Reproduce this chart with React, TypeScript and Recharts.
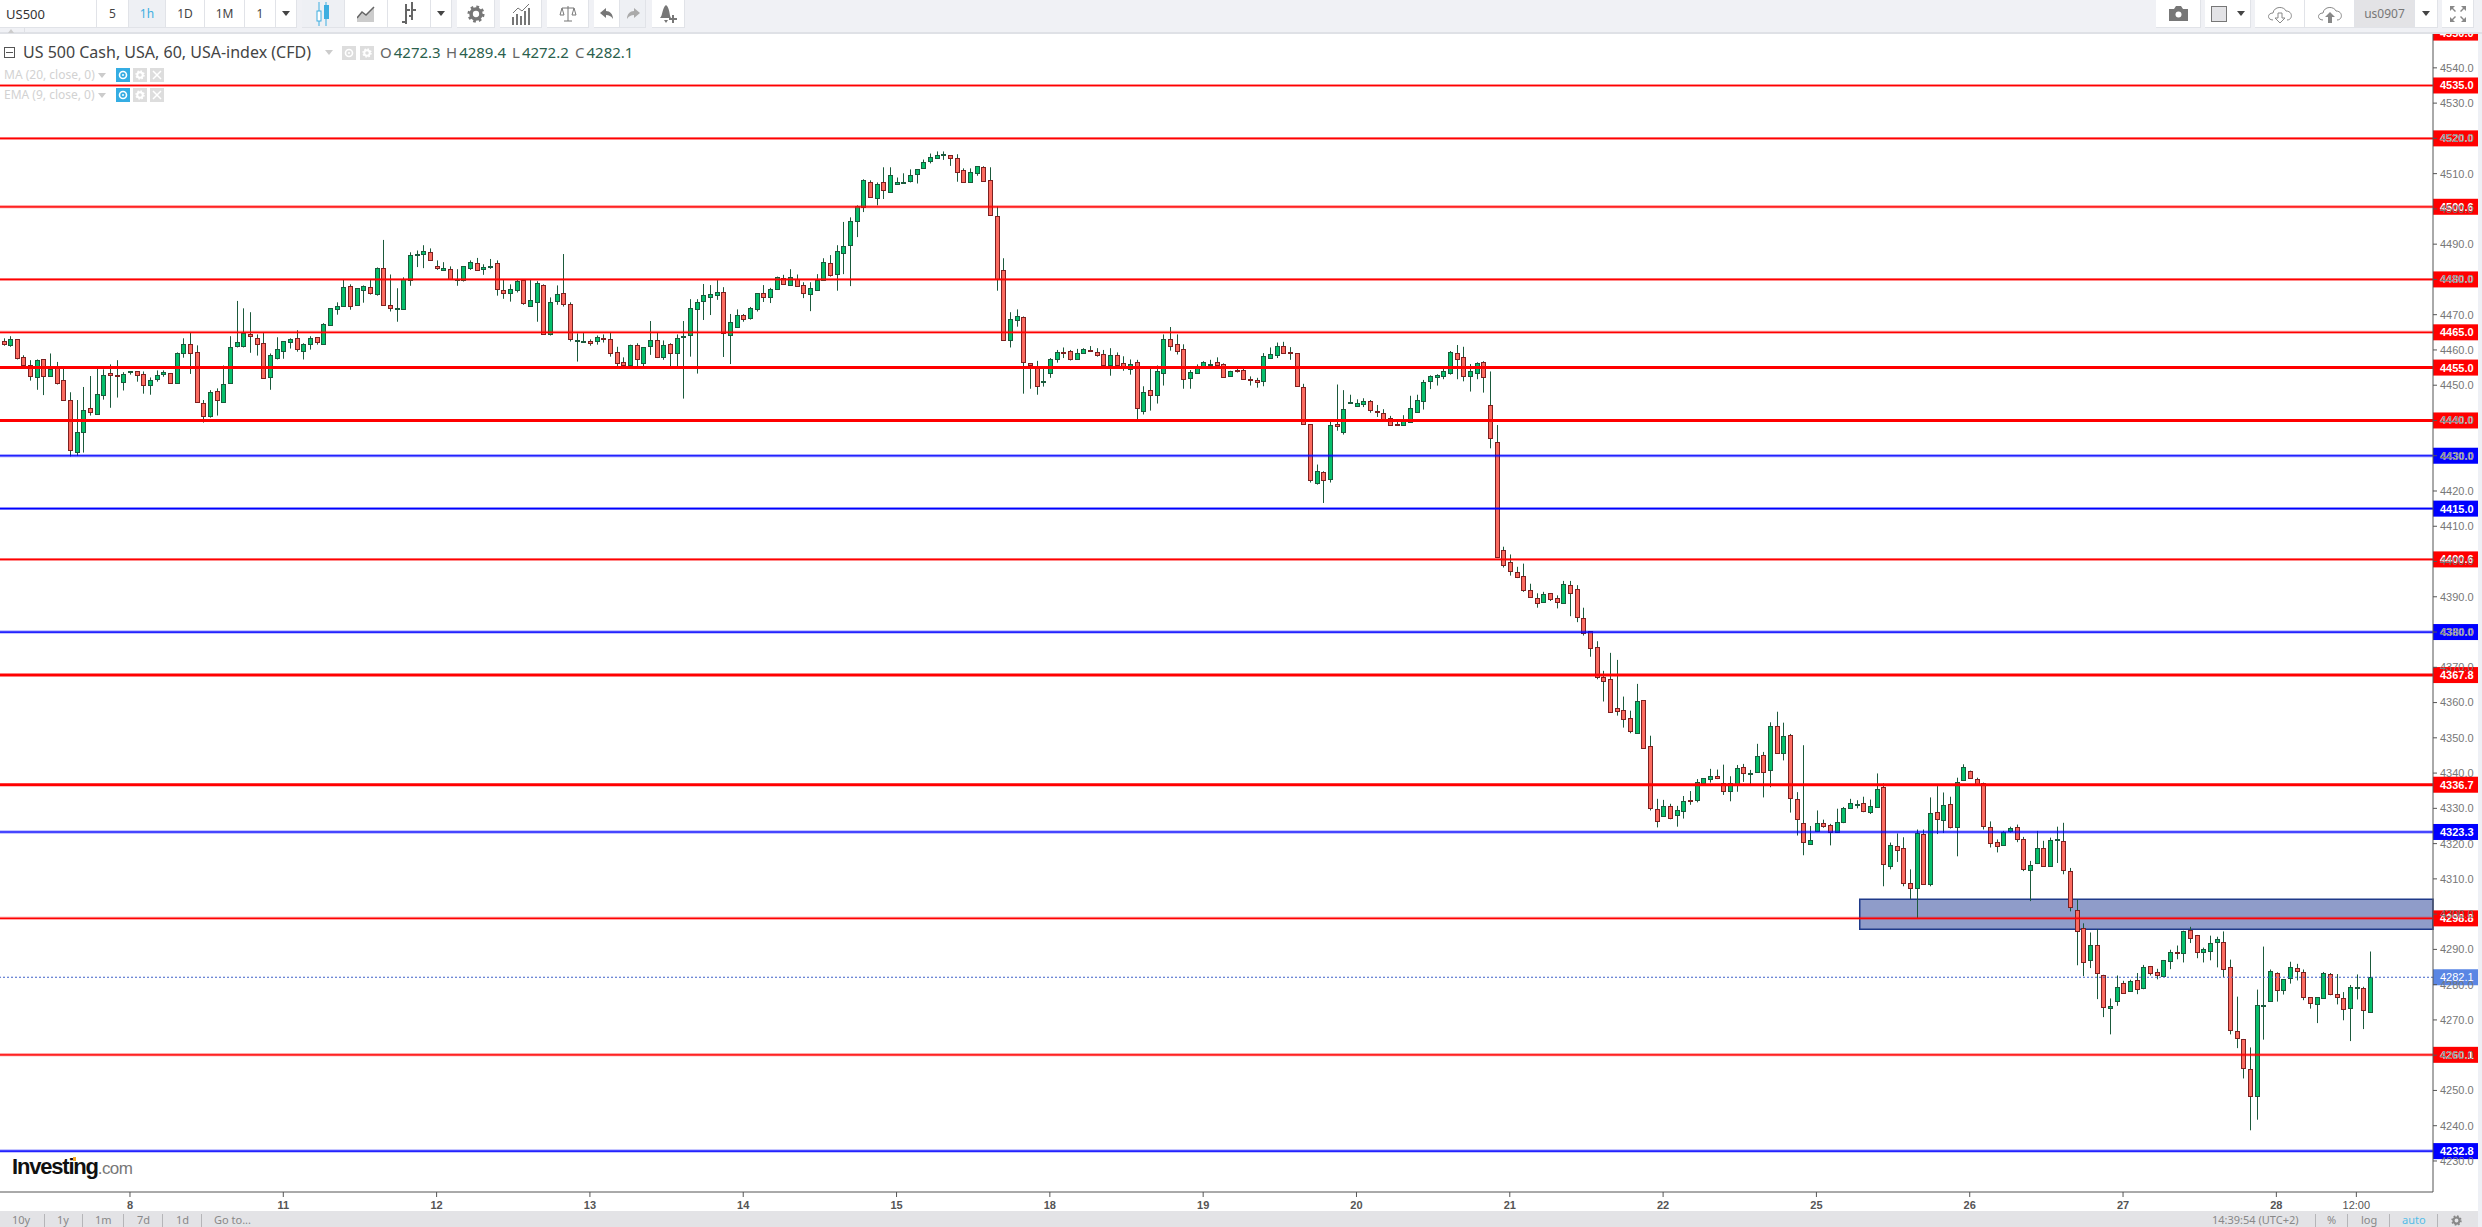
import React from "react";
import { ComposedChart, Bar, XAxis, YAxis, ReferenceLine, ReferenceArea } from "recharts";

// hourly candles
const opens = [
  4462.4, 4461.5, 4463.0, 4457.9, 4455.8, 4452.2, 4457.3, 4452.7, 4455.1, 4451.4,
  4445.7, 4431.2, 4436.6, 4443.5, 4441.8, 4447.1, 4453.4, 4452.8, 4451.0, 4453.9,
  4453.9, 4453.1, 4450.2, 4451.7, 4453.1, 4453.4, 4450.7, 4459.2, 4461.6, 4459.3,
  4444.9, 4441.4, 4448.3, 4445.3, 4450.7, 4461.2, 4461.2, 4464.4, 4463.3, 4461.9,
  4452.2, 4457.8, 4459.8, 4462.2, 4463.3, 4459.8, 4461.8, 4463.6, 4461.8, 4467.2,
  4471.5, 4472.6, 4478.0, 4472.8, 4476.9, 4477.8, 4476.0, 4483.1, 4472.7, 4471.8,
  4471.7, 4479.9, 4487.1, 4487.1, 4487.7, 4483.7, 4482.6, 4482.9, 4480.0, 4479.9,
  4483.2, 4484.6, 4482.9, 4483.4, 4484.6, 4476.9, 4476.1, 4476.9, 4479.7, 4472.6,
  4473.5, 4478.3, 4464.6, 4474.0, 4476.1, 4472.9, 4462.9, 4462.6, 4462.4, 4462.4,
  4463.3, 4463.0, 4459.3, 4456.5, 4455.6, 4461.3, 4456.4, 4461.2, 4462.7, 4458.1,
  4461.6, 4459.2, 4464.0, 4464.1, 4471.7, 4474.0, 4475.1, 4475.7, 4476.3, 4464.3,
  4466.6, 4469.8, 4469.2, 4471.7, 4476.1, 4475.1, 4477.4, 4480.3, 4478.5, 4480.0,
  4478.3, 4476.0, 4477.1, 4479.9, 4484.6, 4481.6, 4487.6, 4489.9, 4496.7, 4500.5,
  4507.5, 4503.0, 4507.5, 4504.9, 4507.2, 4507.7, 4508.0, 4509.8, 4511.5, 4513.5,
  4514.3, 4515.5, 4515.2, 4514.3, 4510.9, 4507.7, 4510.3, 4511.8, 4508.1, 4497.9,
  4482.6, 4462.9, 4468.6, 4469.3, 4456.2, 4455.3, 4451.3, 4453.6, 4457.3, 4459.3,
  4459.6, 4457.5, 4459.0, 4459.9, 4459.3, 4458.8, 4455.6, 4458.5, 4456.2, 4454.7,
  4456.5, 4442.8, 4448.6, 4447.3, 4453.6, 4463.0, 4461.6, 4460.2, 4452.1, 4453.6,
  4455.3, 4456.1, 4456.5, 4455.9, 4452.7, 4454.4, 4454.3, 4451.9, 4451.4, 4451.1,
  4457.8, 4458.7, 4461.1, 4459.5, 4459.0, 4449.5, 4439.0, 4422.4, 4425.4, 4423.3,
  4439.0, 4436.6, 4445.1, 4444.0, 4444.8, 4445.5, 4442.6, 4442.1, 4440.7, 4439.0,
  4438.6, 4439.5, 4442.5, 4445.4, 4451.1, 4452.2, 4452.5, 4453.6, 4459.0, 4457.9,
  4452.7, 4453.6, 4456.5, 4444.4, 4433.9, 4403.3, 4399.8, 4397.0, 4395.9, 4392.0,
  4389.6, 4388.5, 4391.0, 4389.6, 4388.2, 4393.3, 4392.2, 4384.0, 4380.2, 4375.7,
  4367.2, 4366.7, 4358.5, 4357.9, 4355.6, 4351.5, 4360.7, 4347.6, 4329.8, 4327.7,
  4330.7, 4328.1, 4329.2, 4332.3, 4332.3, 4337.1, 4338.3, 4339.1, 4337.2, 4335.0,
  4336.5, 4341.7, 4340.1, 4340.2, 4345.1, 4340.8, 4353.4, 4345.6, 4350.9, 4332.6,
  4325.8, 4320.0, 4323.7, 4325.8, 4325.2, 4323.4, 4326.2, 4330.2, 4331.2, 4331.6,
  4328.9, 4330.4, 4336.1, 4313.6, 4319.4, 4318.8, 4308.9, 4307.4, 4322.8, 4308.6,
  4329.0, 4326.7, 4331.3, 4324.7, 4338.1, 4340.7, 4338.4, 4337.3, 4324.8, 4320.5,
  4319.7, 4323.5, 4324.8, 4321.4, 4312.6, 4314.5, 4318.8, 4313.7, 4321.4, 4320.8,
  4312.3, 4301.2, 4296.1, 4287.0, 4291.3, 4282.8, 4273.3, 4275.4, 4280.5, 4278.2,
  4281.4, 4279.0, 4285.3, 4283.6, 4282.4, 4286.7, 4289.4, 4288.9, 4295.6, 4294.1,
  4289.2, 4289.5, 4292.0, 4292.1, 4285.0, 4266.9, 4264.6, 4256.1, 4248.3, 4274.1,
  4275.3, 4283.3, 4278.4, 4281.9, 4284.8, 4283.6, 4276.5, 4274.4, 4276.2, 4283.1,
  4277.4, 4276.2, 4273.3, 4279.2, 4279.1, 4272.3,
];
const highs = [
  4463.3, 4463.9, 4463.0, 4458.5, 4457.1, 4457.3, 4457.3, 4459.0, 4456.6, 4454.7,
  4448.0, 4445.8, 4449.5, 4452.6, 4454.8, 4454.5, 4455.9, 4457.1, 4453.7, 4453.9,
  4453.9, 4453.9, 4452.2, 4454.2, 4454.2, 4453.4, 4459.3, 4463.3, 4465.0, 4461.3,
  4445.8, 4448.6, 4449.1, 4455.6, 4463.9, 4473.9, 4471.8, 4470.7, 4464.4, 4465.0,
  4459.0, 4463.6, 4462.4, 4463.3, 4465.6, 4461.9, 4463.9, 4463.6, 4467.6, 4471.8,
  4473.5, 4480.0, 4478.6, 4477.5, 4478.3, 4480.0, 4483.4, 4491.2, 4481.4, 4477.5,
  4480.6, 4487.7, 4488.2, 4489.7, 4488.8, 4485.4, 4484.9, 4483.7, 4482.9, 4483.7,
  4485.4, 4486.1, 4484.3, 4485.8, 4485.4, 4480.0, 4478.6, 4480.0, 4480.0, 4480.0,
  4479.5, 4478.6, 4474.9, 4478.3, 4487.2, 4473.5, 4464.7, 4465.0, 4463.0, 4464.1,
  4464.4, 4465.0, 4460.9, 4457.9, 4461.5, 4461.9, 4460.7, 4468.2, 4465.0, 4462.7,
  4461.9, 4464.4, 4468.2, 4474.4, 4474.4, 4478.7, 4478.4, 4479.8, 4477.8, 4470.2,
  4471.5, 4470.2, 4472.2, 4476.1, 4478.4, 4477.6, 4480.8, 4481.3, 4482.9, 4481.4,
  4479.2, 4479.2, 4481.5, 4486.0, 4486.9, 4489.7, 4496.3, 4497.6, 4501.0, 4508.4,
  4508.1, 4507.5, 4511.8, 4511.8, 4508.9, 4510.1, 4511.2, 4511.2, 4514.0, 4515.7,
  4516.3, 4516.3, 4515.2, 4515.5, 4511.5, 4511.5, 4512.1, 4512.1, 4511.8, 4500.7,
  4486.0, 4470.7, 4471.5, 4469.5, 4456.2, 4456.9, 4454.7, 4457.7, 4460.0, 4460.7,
  4460.0, 4460.3, 4460.5, 4461.1, 4460.5, 4460.0, 4460.5, 4459.3, 4458.2, 4457.3,
  4457.2, 4449.7, 4454.7, 4455.6, 4464.4, 4466.5, 4464.4, 4461.6, 4454.3, 4455.9,
  4456.8, 4457.2, 4457.9, 4456.2, 4454.1, 4455.1, 4454.9, 4452.5, 4452.1, 4459.1,
  4460.7, 4462.1, 4462.3, 4460.8, 4459.0, 4450.4, 4439.0, 4427.5, 4425.6, 4439.6,
  4450.2, 4448.6, 4447.3, 4446.0, 4446.3, 4445.8, 4444.4, 4443.2, 4441.3, 4440.0,
  4441.5, 4447.0, 4447.3, 4451.5, 4452.8, 4453.1, 4454.9, 4459.7, 4461.4, 4460.9,
  4456.0, 4456.5, 4456.8, 4453.9, 4438.7, 4404.2, 4402.0, 4398.5, 4399.4, 4393.7,
  4391.0, 4391.4, 4391.0, 4390.4, 4394.5, 4394.5, 4393.3, 4386.9, 4380.2, 4377.4,
  4369.0, 4374.1, 4372.1, 4361.7, 4357.7, 4365.3, 4360.7, 4350.6, 4332.7, 4332.4,
  4331.3, 4330.7, 4333.5, 4334.9, 4338.3, 4338.6, 4341.2, 4341.0, 4342.4, 4339.1,
  4342.3, 4342.6, 4340.9, 4348.3, 4346.0, 4354.4, 4357.4, 4354.3, 4351.1, 4334.6,
  4347.9, 4325.0, 4329.4, 4326.8, 4325.6, 4329.9, 4330.4, 4332.7, 4332.3, 4333.3,
  4332.5, 4339.9, 4337.1, 4320.3, 4322.9, 4321.8, 4312.7, 4324.0, 4324.0, 4333.1,
  4336.3, 4334.5, 4333.3, 4338.7, 4342.5, 4340.7, 4338.7, 4337.3, 4326.3, 4321.2,
  4323.6, 4324.8, 4325.4, 4321.9, 4315.1, 4323.6, 4320.8, 4321.7, 4324.8, 4325.9,
  4313.1, 4304.2, 4297.4, 4294.8, 4295.7, 4282.8, 4276.1, 4282.6, 4281.1, 4281.4,
  4283.3, 4285.6, 4285.3, 4284.5, 4287.0, 4289.9, 4291.1, 4295.3, 4296.4, 4294.1,
  4290.5, 4293.9, 4293.6, 4295.1, 4287.1, 4276.6, 4264.6, 4262.2, 4278.6, 4290.8,
  4284.3, 4283.5, 4281.6, 4286.5, 4285.9, 4284.3, 4276.5, 4276.5, 4283.6, 4283.3,
  4283.0, 4277.9, 4279.9, 4282.9, 4279.4, 4289.4,
];
const lows = [
  4461.2, 4460.9, 4457.3, 4455.1, 4451.3, 4448.7, 4447.2, 4452.4, 4450.2, 4445.7,
  4429.8, 4430.0, 4430.9, 4441.4, 4441.8, 4445.9, 4443.6, 4446.5, 4448.5, 4453.0,
  4451.0, 4447.6, 4447.3, 4451.0, 4452.4, 4450.7, 4450.7, 4457.8, 4453.2, 4445.3,
  4439.4, 4440.8, 4441.4, 4445.3, 4450.4, 4460.7, 4460.7, 4459.2, 4458.4, 4452.0,
  4448.7, 4457.3, 4457.5, 4460.4, 4459.5, 4457.3, 4460.1, 4461.5, 4461.8, 4467.2,
  4470.0, 4472.6, 4471.4, 4472.8, 4473.4, 4475.7, 4475.4, 4472.8, 4470.9, 4468.0,
  4471.7, 4478.2, 4483.5, 4483.2, 4485.4, 4482.7, 4482.5, 4480.1, 4478.2, 4479.4,
  4482.7, 4482.4, 4481.3, 4483.0, 4475.4, 4474.5, 4473.7, 4476.3, 4472.8, 4472.6,
  4468.0, 4464.6, 4464.1, 4472.8, 4472.3, 4462.4, 4456.7, 4462.4, 4461.2, 4461.5,
  4462.1, 4458.1, 4455.2, 4455.8, 4455.1, 4455.3, 4455.1, 4458.6, 4457.7, 4457.2,
  4454.7, 4455.3, 4446.2, 4458.1, 4453.3, 4468.5, 4469.9, 4474.2, 4458.0, 4456.0,
  4466.6, 4468.0, 4468.6, 4470.9, 4473.6, 4473.3, 4477.0, 4478.8, 4478.5, 4477.9,
  4474.7, 4471.0, 4477.1, 4479.9, 4480.8, 4476.8, 4481.5, 4478.1, 4492.0, 4499.1,
  4503.3, 4501.0, 4502.8, 4504.6, 4507.2, 4507.2, 4507.5, 4507.2, 4511.5, 4512.9,
  4514.3, 4513.9, 4512.2, 4507.7, 4507.4, 4507.4, 4509.4, 4507.7, 4498.1, 4476.8,
  4462.9, 4460.7, 4466.6, 4447.6, 4449.0, 4447.3, 4449.6, 4452.1, 4456.4, 4457.7,
  4457.0, 4457.5, 4459.0, 4459.6, 4458.1, 4454.7, 4452.7, 4455.8, 4454.1, 4453.0,
  4440.4, 4441.7, 4442.8, 4444.8, 4449.9, 4459.8, 4458.7, 4449.0, 4449.0, 4453.3,
  4454.7, 4455.3, 4455.0, 4452.4, 4452.7, 4453.6, 4451.7, 4449.9, 4449.3, 4449.7,
  4457.8, 4457.7, 4459.2, 4457.2, 4449.7, 4438.9, 4422.4, 4421.8, 4416.6, 4422.4,
  4437.1, 4436.0, 4444.7, 4444.0, 4443.8, 4442.2, 4441.0, 4440.0, 4438.6, 4438.6,
  4438.6, 4439.5, 4442.5, 4443.1, 4448.9, 4449.9, 4451.7, 4453.0, 4451.7, 4451.1,
  4448.2, 4451.7, 4447.9, 4432.1, 4401.2, 4398.3, 4396.0, 4395.3, 4391.4, 4389.8,
  4386.9, 4388.5, 4388.8, 4386.7, 4388.2, 4384.5, 4382.8, 4379.0, 4373.0, 4366.6,
  4360.3, 4357.3, 4356.3, 4352.9, 4351.3, 4351.3, 4347.1, 4329.4, 4324.6, 4327.7,
  4326.9, 4324.8, 4327.1, 4331.0, 4331.7, 4337.1, 4337.3, 4338.3, 4333.8, 4332.0,
  4334.7, 4337.5, 4336.5, 4340.2, 4333.1, 4336.0, 4345.6, 4343.6, 4328.8, 4322.3,
  4316.7, 4319.8, 4323.7, 4324.5, 4319.5, 4323.4, 4325.8, 4330.2, 4330.0, 4328.9,
  4328.4, 4330.4, 4307.9, 4312.7, 4314.8, 4307.9, 4304.3, 4298.9, 4308.6, 4307.9,
  4322.7, 4323.0, 4324.3, 4316.4, 4338.1, 4338.7, 4336.7, 4324.0, 4318.9, 4317.5,
  4319.4, 4323.1, 4320.4, 4312.2, 4303.7, 4314.2, 4313.4, 4313.7, 4314.5, 4311.3,
  4300.8, 4285.5, 4282.4, 4284.7, 4275.9, 4270.8, 4265.9, 4274.0, 4277.4, 4278.0,
  4277.3, 4278.7, 4282.6, 4281.5, 4282.4, 4284.4, 4287.2, 4286.3, 4291.8, 4287.5,
  4286.3, 4286.9, 4284.9, 4282.1, 4265.9, 4262.0, 4253.4, 4238.7, 4241.7, 4264.4,
  4275.3, 4275.2, 4277.2, 4280.3, 4281.2, 4275.6, 4273.2, 4269.1, 4276.2, 4277.0,
  4274.4, 4269.9, 4264.0, 4275.8, 4267.4, 4272.2,
];
const closes = [
  4461.8, 4463.0, 4457.8, 4455.8, 4452.7, 4457.1, 4452.7, 4454.5, 4450.7, 4445.7,
  4431.7, 4436.6, 4442.9, 4442.5, 4447.4, 4452.8, 4452.8, 4452.5, 4453.1, 4453.9,
  4453.0, 4450.2, 4451.4, 4452.8, 4453.7, 4450.7, 4459.0, 4461.6, 4459.0, 4445.3,
  4441.4, 4448.0, 4445.9, 4450.3, 4460.7, 4462.2, 4464.7, 4463.9, 4461.6, 4452.0,
  4458.7, 4460.2, 4462.4, 4463.0, 4460.2, 4461.6, 4463.3, 4462.2, 4467.3, 4471.8,
  4472.4, 4477.8, 4472.6, 4477.5, 4478.0, 4476.2, 4483.1, 4472.8, 4472.0, 4471.8,
  4480.0, 4486.8, 4487.1, 4488.2, 4485.4, 4483.1, 4483.1, 4480.1, 4480.0, 4483.7,
  4484.8, 4482.6, 4483.4, 4483.7, 4477.2, 4476.1, 4477.2, 4479.5, 4473.2, 4474.1,
  4478.9, 4464.6, 4473.5, 4475.8, 4473.1, 4463.2, 4462.9, 4462.6, 4462.0, 4463.6,
  4463.0, 4459.0, 4456.4, 4455.8, 4461.3, 4457.3, 4460.7, 4462.7, 4458.1, 4461.3,
  4459.2, 4463.3, 4464.0, 4471.8, 4473.5, 4475.5, 4475.9, 4476.3, 4464.7, 4467.8,
  4469.8, 4468.9, 4471.8, 4476.1, 4475.1, 4477.2, 4480.6, 4478.8, 4480.6, 4478.2,
  4476.2, 4477.5, 4479.7, 4484.8, 4481.3, 4488.0, 4489.4, 4496.5, 4500.7, 4508.1,
  4503.3, 4507.2, 4505.3, 4509.5, 4507.5, 4507.7, 4509.5, 4511.2, 4513.2, 4514.6,
  4515.2, 4515.5, 4514.3, 4510.6, 4507.7, 4510.6, 4512.1, 4508.0, 4498.4, 4480.0,
  4462.9, 4468.7, 4469.5, 4456.7, 4455.8, 4449.9, 4451.3, 4457.3, 4459.3, 4459.0,
  4457.5, 4459.0, 4460.2, 4459.6, 4458.7, 4455.8, 4458.5, 4455.8, 4455.0, 4455.9,
  4443.4, 4448.0, 4447.3, 4453.9, 4463.0, 4461.2, 4459.8, 4451.9, 4453.7, 4455.0,
  4456.5, 4456.1, 4455.6, 4452.4, 4453.9, 4454.1, 4451.7, 4451.4, 4450.8, 4458.3,
  4458.8, 4461.1, 4459.2, 4459.0, 4449.7, 4438.9, 4423.0, 4425.6, 4423.0, 4438.6,
  4438.3, 4443.2, 4445.1, 4444.9, 4445.5, 4442.9, 4442.3, 4440.4, 4438.6, 4438.9,
  4439.9, 4443.5, 4445.8, 4450.9, 4452.5, 4452.8, 4453.9, 4459.4, 4457.3, 4452.7,
  4453.9, 4456.2, 4452.2, 4434.9, 4401.2, 4399.1, 4397.2, 4395.7, 4391.8, 4389.8,
  4388.2, 4390.8, 4389.3, 4388.4, 4393.6, 4391.2, 4384.2, 4379.6, 4375.5, 4367.3,
  4366.0, 4357.3, 4357.5, 4355.2, 4351.8, 4360.4, 4347.1, 4330.0, 4326.3, 4330.7,
  4327.4, 4329.6, 4332.1, 4332.0, 4337.4, 4338.6, 4339.1, 4338.5, 4334.9, 4337.2,
  4341.4, 4339.9, 4340.1, 4344.8, 4340.2, 4353.4, 4345.6, 4350.5, 4332.8, 4326.9,
  4320.4, 4321.0, 4325.8, 4325.1, 4323.2, 4326.1, 4330.0, 4331.4, 4331.2, 4329.2,
  4330.6, 4335.6, 4314.2, 4319.7, 4318.2, 4308.8, 4307.4, 4323.1, 4308.6, 4328.8,
  4326.9, 4331.0, 4324.7, 4337.6, 4341.8, 4338.7, 4337.0, 4325.0, 4320.2, 4319.4,
  4323.4, 4324.5, 4321.4, 4312.8, 4314.0, 4318.8, 4313.6, 4321.1, 4321.4, 4312.6,
  4302.0, 4295.3, 4286.4, 4291.3, 4283.3, 4273.7, 4274.0, 4279.4, 4277.7, 4281.1,
  4278.8, 4285.0, 4283.3, 4282.7, 4287.0, 4289.3, 4289.2, 4295.3, 4293.3, 4289.2,
  4290.2, 4291.9, 4293.0, 4284.4, 4267.1, 4264.8, 4256.3, 4248.3, 4274.3, 4274.1,
  4283.9, 4278.4, 4281.6, 4285.0, 4283.8, 4276.5, 4274.8, 4276.5, 4283.3, 4277.3,
  4276.4, 4273.0, 4279.4, 4279.2, 4272.8, 4282.1,
];

// empty hours after the last candle, the chart keeps some room on the right
const emptySlots = 9;

const xTickSlots = [19, 42, 65, 88, 111, 134, 157, 180, 203, 226, 249, 272, 295, 318, 341, 353];
const xTickLabels = ["8", "11", "12", "13", "14", "15", "18", "19", "20", "21", "22", "25", "26", "27", "28", "12:00"];

const priceTicks = [
  4230, 4240, 4250, 4260, 4270, 4280, 4290, 4300, 4310, 4320, 4330, 4340, 4350, 4360, 4370, 4380,
  4390, 4400, 4410, 4420, 4430, 4440, 4450, 4460, 4470, 4480, 4490, 4500, 4510, 4520, 4530, 4540,
];

const redLevels = [4550, 4535, 4520, 4500.6, 4480, 4465, 4455, 4440, 4400.6, 4367.8, 4336.7, 4298.8, 4260.1];
const blueLevels = [4430, 4415, 4380, 4323.3, 4232.8];
const heavyLevels = [4455, 4440, 4367.8, 4336.7];
const lastPrice = 4282.1;
const zone = { from: 279, to: 364, top: 4304.2, bottom: 4295.7 };

const candles = [...opens, ...Array(emptySlots).fill(null)].map((_, i) =>
  i < opens.length
    ? { slot: i, open: opens[i], high: highs[i], low: lows[i], close: closes[i], range: [lows[i], highs[i]] }
    : { slot: i }
);

const UI_FONT = '"Noto Sans", sans-serif';
const AXIS_FONT = '"Liberation Sans", Arial, sans-serif';

function Candle(props: any) {
  const { x, y, width, height, payload } = props;
  if (!payload || payload.high == null) return null;
  const { open, high, low, close } = payload;
  const up = close >= open;
  const cx = Math.round(x + width / 2);
  const perPoint = Math.abs(height) / (high - low);
  const top = Math.round(y + (high - Math.max(open, close)) * perPoint);
  const bottom = Math.round(y + (high - Math.min(open, close)) * perPoint);
  return (
    <g>
      <line x1={cx + 0.5} x2={cx + 0.5} y1={y} y2={y + Math.abs(height)} stroke="#1b5a3c" strokeWidth={1} />
      <rect
        x={cx - 1.5}
        y={top + 0.5}
        width={4}
        height={Math.max(bottom - top, 1)}
        fill={up ? "#04bf6b" : "#fb6a5f"}
        stroke={up ? "#1b5a3c" : "#7d2020"}
        strokeWidth={1}
      />
    </g>
  );
}

function PriceTag(props: any) {
  const { viewBox, value, fill, bold } = props;
  const tagY = viewBox.y;
  const left = viewBox.x + viewBox.width;
  return (
    <g>
      <rect x={left} y={tagY - 8} width={45} height={16} fill={fill} />
      <text
        x={left + 7}
        y={tagY + 4}
        fill="#fff"
        fontSize={11}
        fontWeight={bold ? 700 : 400}
        fontFamily={AXIS_FONT}
      >
        {value.toFixed(1)}
      </text>
    </g>
  );
}

function TimeTick(props: any) {
  const { x, y, payload } = props;
  const i = xTickSlots.indexOf(payload.value);
  const label = xTickLabels[i];
  const isDay = !label.includes(":");
  return (
    <text
      x={x}
      y={y + 10}
      textAnchor="middle"
      fontSize={11}
      fontWeight={isDay ? 700 : 400}
      fill="#555"
      fontFamily={AXIS_FONT}
    >
      {label}
    </text>
  );
}

function Box({ x, w, y = 0, h = 28, bg = "#fff", children }: any) {
  return (
    <div
      style={{
        position: "absolute",
        left: x,
        top: y,
        width: w,
        height: h,
        background: bg,
        display: "flex",
        alignItems: "center",
        justifyContent: "center",
        borderRight: "1px solid #e1e3e8",
        borderBottom: "1px solid #e1e3e8",
        boxSizing: "border-box",
        fontFamily: UI_FONT,
        fontSize: 12,
        color: "#444",
      }}
    >
      {children}
    </div>
  );
}

function Caret({ color = "#444" }: any) {
  return (
    <svg width="8" height="5" style={{ display: "block" }}>
      <path d="M0 0H8L4 5Z" fill={color} />
    </svg>
  );
}

function Gear({ size = 18, color = "#777" }: any) {
  return (
    <svg width={size} height={size} viewBox="0 0 20 20" style={{ display: "block" }}>
      <circle cx="10" cy="10" r="5.5" fill="none" stroke={color} strokeWidth="4" />
      <circle cx="10" cy="10" r="8" fill="none" stroke={color} strokeWidth="3" strokeDasharray="3 3.3" />
    </svg>
  );
}

function Toolbar() {
  return (
    <div style={{ position: "absolute", left: 0, top: 0, width: 2482, height: 34, background: "#f0f1f5", borderBottom: "2px solid #dfe1e6", boxSizing: "border-box" }}>
      <Box x={0} w={97}>
        <span style={{ width: "100%", paddingLeft: 6, fontSize: 13, color: "#333" }}>US500</span>
      </Box>
      <Box x={97} w={32}>5</Box>
      <Box x={129} w={37} bg="#eef0f4"><span style={{ color: "#3eaee0" }}>1h</span></Box>
      <Box x={166} w={39}>1D</Box>
      <Box x={205} w={40}>1M</Box>
      <Box x={245} w={31}>1</Box>
      <Box x={276} w={21}><Caret /></Box>
      <Box x={302} w={43} bg="#eef0f4">
        <svg width="14" height="24">
          <path d="M3 0V24M10 0V24" stroke="#3eaee0" strokeWidth="1" />
          <rect x="1" y="9" width="4" height="10" fill="#fff" stroke="#3eaee0" />
          <rect x="8" y="3" width="5" height="14" fill="#3eaee0" />
        </svg>
      </Box>
      <Box x={345} w={43}>
        <svg width="18" height="16">
          <path d="M0 12L5 6L9 9L17 1V16H0Z" fill="#ccc" />
          <path d="M0 12L5 6L9 9L17 1" stroke="#666" strokeWidth="1.5" fill="none" />
        </svg>
      </Box>
      <Box x={388} w={43}>
        <svg width="16" height="24">
          <path d="M5 2V22M11 0V18M1 20H5M5 8H9M11 8H15M8 14H11" stroke="#666" strokeWidth="2" fill="none" />
        </svg>
      </Box>
      <Box x={431} w={21}><Caret /></Box>
      <Box x={457} w={38}><Gear /></Box>
      <Box x={500} w={42}>
        <svg width="18" height="22">
          <path d="M1 22V14M5 22V11M9 22V13M13 22V8M17 22V5" stroke="#777" strokeWidth="2" />
          <path d="M1 10L6 5L10 8L17 1" stroke="#777" fill="none" />
        </svg>
      </Box>
      <Box x={547} w={42}>
        <svg width="18" height="18">
          <path d="M9 1V16M3 3H15M3 3L1 10H5ZM15 3L13 10H17ZM5 16H13" stroke="#777" fill="none" />
        </svg>
      </Box>
      <Box x={594} w={26}>
        <svg width="14" height="12"><path d="M6 0L0 5L6 10V7C9 7 11 8 13 11C13 6 10 3 6 3Z" fill="#777" /></svg>
      </Box>
      <Box x={620} w={26} bg="#eef0f4">
        <svg width="14" height="12"><path d="M8 0L14 5L8 10V7C5 7 3 8 1 11C1 6 4 3 8 3Z" fill="#aaa" /></svg>
      </Box>
      <Box x={652} w={33}>
        <svg width="18" height="22">
          <path d="M7 2C3 5 4 12 1 15H12C10 12 11 5 7 2ZM5 17H9L7 20Z" fill="#777" />
          <path d="M14 12V20M10 16H18" stroke="#777" strokeWidth="2" />
        </svg>
      </Box>
      <Box x={2156} w={45}>
        <svg width="20" height="15">
          <path d="M1 3H6L8 0H13L15 3H20V15H1Z" fill="#777" />
          <circle cx="10.5" cy="8.5" r="3" fill="#fff" />
        </svg>
      </Box>
      <Box x={2205} w={46}>
        <span style={{ width: 14, height: 14, background: "#e3e3e6", border: "1px solid #777", marginRight: 10 }} />
        <Caret />
      </Box>
      <Box x={2255} w={50}>
        <svg width="26" height="18">
          <path d="M6 15C0 15 0 8 6 8C7 1 17 1 19 6C26 6 26 15 20 15" fill="none" stroke="#888" />
          <path d="M11 8H15V13H18L13 18L8 13H11Z" fill="#fff" stroke="#888" />
        </svg>
      </Box>
      <Box x={2305} w={50}>
        <svg width="26" height="18">
          <path d="M6 15C0 15 0 8 6 8C7 1 17 1 19 6C26 6 26 15 20 15" fill="none" stroke="#888" />
          <path d="M11 18V12H8L13 7L18 12H15V18Z" fill="#888" />
        </svg>
      </Box>
      <Box x={2355} w={60} bg="#e3e3e6"><span style={{ color: "#777" }}>us0907</span></Box>
      <Box x={2415} w={23}><Caret /></Box>
      <Box x={2442} w={32}>
        <svg width="16" height="16">
          <path d="M0 0H5L3 2L6 5L5 6L2 3L0 5ZM16 0V5L14 3L11 6L10 5L13 2L11 0ZM0 16V11L2 13L5 10L6 11L3 14L5 16ZM16 16H11L13 14L10 11L11 10L14 13L16 11Z" fill="#888" />
        </svg>
      </Box>
      <div style={{ position: "absolute", left: 24, top: 28, width: 1, height: 5, background: "#dfe1e6" }} />
      <svg width="6" height="4" style={{ position: "absolute", left: 8, top: 29 }}>
        <path d="M0 4H6L3 0Z" fill="#ccc" />
      </svg>
    </div>
  );
}

function IconSquare({ x, y, size = 14, bg = "#ddd", color = "#fff", kind = "eye" }: any) {
  return (
    <div style={{ position: "absolute", left: x, top: y, width: size, height: size, background: bg, display: "flex", alignItems: "center", justifyContent: "center" }}>
      {kind === "eye" && (
        <svg width="10" height="10"><circle cx="5" cy="5" r="3.5" fill="none" stroke={color} strokeWidth="1.6" /><circle cx="5" cy="5" r="1" fill={color} /></svg>
      )}
      {kind === "gear" && <Gear size={10} color={color} />}
      {kind === "x" && (
        <svg width="10" height="10"><path d="M1 1L9 9M9 1L1 9" stroke={color} strokeWidth="1.5" /></svg>
      )}
    </div>
  );
}

function Legend() {
  const faded = { position: "absolute", left: 4, fontFamily: UI_FONT, fontSize: 12, color: "#d2d2d2", whiteSpace: "nowrap" } as const;
  const ohlc = [
    ["O", "4272.3", 380],
    ["H", "4289.4", 446],
    ["L", "4272.2", 512],
    ["C", "4282.1", 575],
  ];
  return (
    <>
      <div style={{ position: "absolute", left: 4, top: 47, width: 11, height: 11, border: "1px solid #555", boxSizing: "border-box" }}>
        <div style={{ height: 1, background: "#555", margin: "4px 1px 0" }} />
      </div>
      <div style={{ position: "absolute", left: 23, top: 41, fontFamily: UI_FONT, fontSize: 16, color: "#444", whiteSpace: "nowrap" }}>
        US 500 Cash, USA, 60, USA-index (CFD)
      </div>
      <div style={{ position: "absolute", left: 325, top: 50 }}><Caret color="#ccc" /></div>
      <IconSquare x={342} y={46} kind="eye" />
      <IconSquare x={360} y={46} kind="gear" />
      {ohlc.map(([k, v, x]) => (
        <div key={k as string} style={{ position: "absolute", left: x as number, top: 42, fontFamily: UI_FONT, fontSize: 15, whiteSpace: "nowrap" }}>
          <span style={{ color: "#666", marginRight: 2 }}>{k}</span>
          <span style={{ color: "#2b5f4d" }}>{v}</span>
        </div>
      ))}
      <div style={{ ...faded, top: 66 }}>MA (20, close, 0)</div>
      <div style={{ position: "absolute", left: 98, top: 73 }}><Caret color="#ccc" /></div>
      <IconSquare x={116} y={68} bg="#35ade3" kind="eye" />
      <IconSquare x={133} y={68} kind="gear" />
      <IconSquare x={150} y={68} kind="x" />
      <div style={{ ...faded, top: 86 }}>EMA (9, close, 0)</div>
      <div style={{ position: "absolute", left: 98, top: 93 }}><Caret color="#ccc" /></div>
      <IconSquare x={116} y={88} bg="#35ade3" kind="eye" />
      <IconSquare x={133} y={88} kind="gear" />
      <IconSquare x={150} y={88} kind="x" />
      <div style={{ position: "absolute", left: 12, top: 1154, fontFamily: AXIS_FONT, whiteSpace: "nowrap", lineHeight: "26px" }}>
        <span style={{ fontSize: 22, fontWeight: 700, letterSpacing: -1.2, color: "#111" }}>Investing</span>
        <span style={{ fontSize: 17, letterSpacing: -0.6, color: "#777" }}>.com</span>
      </div>
      <div style={{ position: "absolute", left: 73, top: 1157, width: 3, height: 4, background: "#f5a623" }} />
    </>
  );
}

function BottomBar() {
  const item = { position: "absolute", top: 1213, fontFamily: UI_FONT, fontSize: 11, color: "#888", whiteSpace: "nowrap", lineHeight: "14px" } as const;
  const left = [["10y", 12], ["1y", 57], ["1m", 95], ["7d", 137], ["1d", 176], ["Go to...", 214]];
  const seps = [44, 82, 123, 162, 201, 2315, 2347, 2389, 2437];
  return (
    <>
      <div style={{ position: "absolute", left: 0, top: 1211, width: 2478, height: 16, background: "#e3e3e6" }} />
      {left.map(([t, x]) => (
        <div key={t as string} style={{ ...item, left: x as number }}>{t}</div>
      ))}
      {seps.map((x) => (
        <div key={x} style={{ position: "absolute", left: x, top: 1214, width: 1, height: 13, background: "#b5b5b8" }} />
      ))}
      <div style={{ ...item, left: 2212 }}>14:39:54 (UTC+2)</div>
      <div style={{ ...item, left: 2327 }}>%</div>
      <div style={{ ...item, left: 2361 }}>log</div>
      <div style={{ ...item, left: 2402, color: "#55bde8" }}>auto</div>
      <div style={{ position: "absolute", left: 2451, top: 1215 }}><Gear size={11} color="#888" /></div>
      <div style={{ position: "absolute", left: 2478, top: 34, width: 4, height: 1193, background: "#eef0f5" }} />
    </>
  );
}

function levelLine(value: number, color: string) {
  const heavy = heavyLevels.includes(value);
  const label = <PriceTag value={value} fill={color} bold />;
  return [
    !heavy && (
      <ReferenceLine key={`halo-${value}`} y={value} ifOverflow="visible" stroke={color} strokeOpacity={0.45} strokeWidth={3} />
    ),
    <ReferenceLine
      key={value}
      y={value}
      ifOverflow="visible"
      stroke={color}
      strokeWidth={heavy ? 3 : 1.2}
      label={label}
    />,
  ];
}

export default function App() {
  return (
    <div style={{ position: "absolute", left: 0, top: 0, width: 2482, height: 1227, background: "#fff", overflow: "hidden" }}>
      <ComposedChart
        width={2482}
        height={1227}
        data={candles}
        margin={{ top: 34, right: 0, left: 0, bottom: 16 }}
        barCategoryGap={0}
      >
        <XAxis
          dataKey="slot"
          ticks={xTickSlots}
          interval={0}
          height={19}
          tick={<TimeTick />}
          tickSize={5}
          stroke="#555"
        />
        <YAxis
          orientation="right"
          width={49}
          domain={[4221.2, 4549.6]}
          allowDataOverflow
          ticks={priceTicks}
          interval={0}
          tickSize={4}
          tickMargin={3}
          stroke="#555"
          tick={{ fill: "#777", fontSize: 11, fontFamily: AXIS_FONT }}
          tickFormatter={(v: number) => v.toFixed(1)}
        />
        <ReferenceLine
          y={lastPrice}
          stroke="#3f62c9"
          strokeDasharray="2 2"
          strokeWidth={1}
          label={<PriceTag value={lastPrice} fill="#5a86e4" />}
        />
        {redLevels.flatMap((v) => levelLine(v, "#ff0000"))}
        {blueLevels.flatMap((v) => levelLine(v, "#0000ff"))}
        <ReferenceArea
          x1={zone.from}
          x2={zone.to}
          y1={zone.top}
          y2={zone.bottom}
          fill="#1f3a93"
          fillOpacity={0.5}
          stroke="#1f3a8a"
          strokeOpacity={1}
          strokeWidth={1.5}
        />
        <Bar dataKey="range" shape={<Candle />} isAnimationActive={false} />
      </ComposedChart>
      <Toolbar />
      <Legend />
      <BottomBar />
    </div>
  );
}
